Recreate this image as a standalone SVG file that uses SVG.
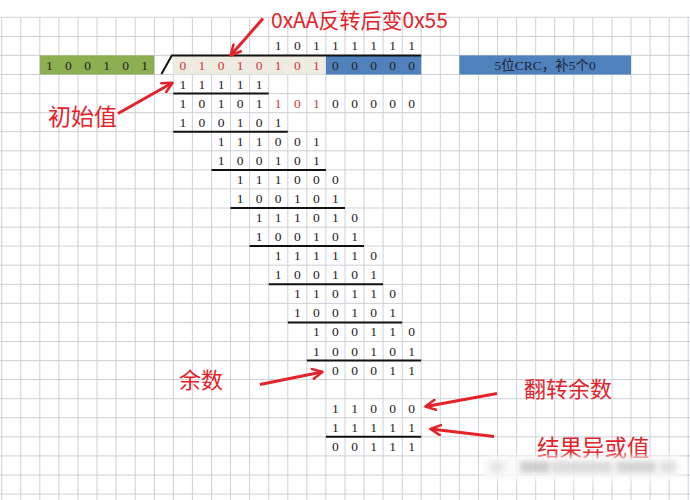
<svg xmlns="http://www.w3.org/2000/svg" width="690" height="500" viewBox="0 0 690 500">
<style>
.g{stroke:#cdd0d7;stroke-width:1;fill:none}
.d{font-family:"Liberation Serif","Noto Sans CJK SC",serif;font-size:13.5px;fill:#222;text-anchor:middle}
.r{fill:#d8323a}
.ul{stroke:#111;stroke-width:2;fill:none}
.ann{font-family:"Noto Sans CJK SC","Noto Sans",sans-serif;fill:#e3222a}
.arr{stroke:#e3222a;stroke-width:3;fill:none;marker-end:url(#ah)}
</style>
<defs>
<marker id="ah" viewBox="0 0 10 10" refX="8.5" refY="5" markerWidth="4.2" markerHeight="4.2" orient="auto" markerUnits="strokeWidth">
<path d="M1,1 L9,5 L1,9" fill="none" stroke="#e3222a" stroke-width="2" stroke-linecap="round" stroke-linejoin="round"/>
</marker>
<filter id="blur" x="-20%" y="-50%" width="140%" height="200%"><feGaussianBlur stdDeviation="2.5"/></filter>
</defs>
<rect width="690" height="500" fill="#fff"/>
<g id="grid">
<path class="g" d="M1.7,17.3V500M20.8,17.3V500M39.8,17.3V500M58.9,17.3V500M78,17.3V500M97,17.3V500M116.1,17.3V500M135.2,17.3V500M154.3,17.3V500M173.3,17.3V500M192.4,17.3V500M211.5,17.3V500M230.5,17.3V500M249.6,17.3V500M268.7,17.3V500M287.8,17.3V500M306.8,17.3V500M325.9,17.3V500M345,17.3V500M364,17.3V500M383.1,17.3V500M402.2,17.3V500M421.2,17.3V500M440.3,17.3V500M459.4,17.3V500M478.5,17.3V500M497.5,17.3V500M516.6,17.3V500M535.7,17.3V500M554.7,17.3V500M573.8,17.3V500M592.9,17.3V500M612,17.3V500M631,17.3V500M650.1,17.3V500M669.2,17.3V500M688.2,17.3V500"/>
<path class="g" d="M0,17.3H690M0,36.4H690M0,55.4H690M0,74.5H690M0,93.6H690M0,112.7H690M0,131.7H690M0,150.8H690M0,169.9H690M0,188.9H690M0,208H690M0,227.1H690M0,246.1H690M0,265.2H690M0,284.3H690M0,303.4H690M0,322.4H690M0,341.5H690M0,360.6H690M0,379.6H690M0,398.7H690M0,417.8H690M0,436.8H690M0,455.9H690M0,475H690M0,494.1H690"/>
</g>
<g id="divisor">
<rect x="39.8" y="55.4" width="114.5" height="19.1" fill="#8eae52"/>
<text class="d" x="49.4 68.4 87.5 106.6 125.7 144.7" y="69.5">100101</text>
</g>
<g id="dividend">
<rect x="173.3" y="55.4" width="152.6" height="19.1" fill="#eeece1"/>
<rect x="325.9" y="55.4" width="95.3" height="19.1" fill="#4f81bd"/>
<text class="d r" x="182.9 201.9 221 240.1 259.1 278.2 297.3 316.4" y="69.5">01010101</text>
<text class="d" x="335.4 354.5 373.6 392.6 411.7" y="69.5">00000</text>
</g>
<g id="crc-note">
<rect x="459.4" y="55.4" width="171.6" height="19.1" fill="#4f81bd"/>
<text class="d" x="545.2" y="69.5" style="fill:#1e2633">5位CRC，补5个0</text>
</g>
<g id="quotient">
<text class="d" x="278.2 297.3 316.4 335.4 354.5 373.6 392.6 411.7" y="50.4">10111111</text>
</g>
<g id="division">
<text class="d" x="182.9 201.9 221 240.1 259.1" y="88.5">11111</text>
<text class="d" x="182.9 201.9 221 240.1 259.1" y="107.6">10101</text>
<text class="d r" x="278.2 297.3 316.4" y="107.6">101</text>
<text class="d" x="335.4 354.5 373.6 392.6 411.7" y="107.6">00000</text>
<text class="d" x="182.9 201.9 221 240.1 259.1 278.2" y="126.7">100101</text>
<text class="d" x="221 240.1 259.1 278.2 297.3 316.4" y="145.8">111001</text>
<text class="d" x="221 240.1 259.1 278.2 297.3 316.4" y="164.8">100101</text>
<text class="d" x="240.1 259.1 278.2 297.3 316.4 335.4" y="183.9">111000</text>
<text class="d" x="240.1 259.1 278.2 297.3 316.4 335.4" y="203">100101</text>
<text class="d" x="259.1 278.2 297.3 316.4 335.4 354.5" y="222">111010</text>
<text class="d" x="259.1 278.2 297.3 316.4 335.4 354.5" y="241.1">100101</text>
<text class="d" x="278.2 297.3 316.4 335.4 354.5 373.6" y="260.1">111110</text>
<text class="d" x="278.2 297.3 316.4 335.4 354.5 373.6" y="279.2">100101</text>
<text class="d" x="297.3 316.4 335.4 354.5 373.6 392.6" y="298.3">110110</text>
<text class="d" x="297.3 316.4 335.4 354.5 373.6 392.6" y="317.4">100101</text>
<text class="d" x="316.4 335.4 354.5 373.6 392.6 411.7" y="336.4">100110</text>
<text class="d" x="316.4 335.4 354.5 373.6 392.6 411.7" y="355.5">100101</text>
<text class="d" x="335.4 354.5 373.6 392.6 411.7" y="374.6">00011</text>
<text class="d" x="335.4 354.5 373.6 392.6 411.7" y="412.7">11000</text>
<text class="d" x="335.4 354.5 373.6 392.6 411.7" y="431.8">11111</text>
<text class="d" x="335.4 354.5 373.6 392.6 411.7" y="450.9">00111</text>
</g>
<g id="rules">
<path class="ul" d="M161.5,74L171.8,55.4H421.2"/>
<path class="ul" d="M173.3,93.6H268.7M173.3,131.7H287.8M211.5,169.9H325.9M230.5,208H345M249.6,246.1H364M268.7,284.3H383.1M287.8,322.4H402.2M306.8,360.6H421.2M325.9,436.8H421.2"/>
</g>
<g id="labels">
<text class="ann" x="271" y="27.5" style="font-size:21px">0xAA反转后变0x55</text>
<text class="ann" x="48" y="125" style="font-size:23px">初始值</text>
<text class="ann" x="179" y="388" style="font-size:22px">余数</text>
<text class="ann" x="524" y="397" style="font-size:22px">翻转余数</text>
<text class="ann" x="537" y="456" style="font-size:22.5px">结果异或值</text>
</g>
<g id="connectors">
<line class="arr" x1="263" y1="18.5" x2="231" y2="55"/>
<line class="arr" x1="118" y1="113.5" x2="172" y2="83"/>
<line class="arr" x1="260" y1="384.5" x2="322" y2="372"/>
<line class="arr" x1="497" y1="393.5" x2="426" y2="406.5"/>
<line class="arr" x1="494" y1="436.5" x2="431" y2="429"/>
</g>
<g id="watermark" filter="url(#blur)" opacity="0.85">
<rect x="482" y="456" width="200" height="24" rx="8" fill="#fafafa"/>
<rect x="490" y="461" width="14" height="12" fill="#e4e4e4"/>
<rect x="520" y="461" width="30" height="12" fill="#c8c8c8"/>
<rect x="552" y="461" width="60" height="12" fill="#d8d8d8"/>
<rect x="616" y="461" width="40" height="12" fill="#cfcfcf"/>
<rect x="660" y="461" width="16" height="12" fill="#dedede"/>
</g>
</svg>
